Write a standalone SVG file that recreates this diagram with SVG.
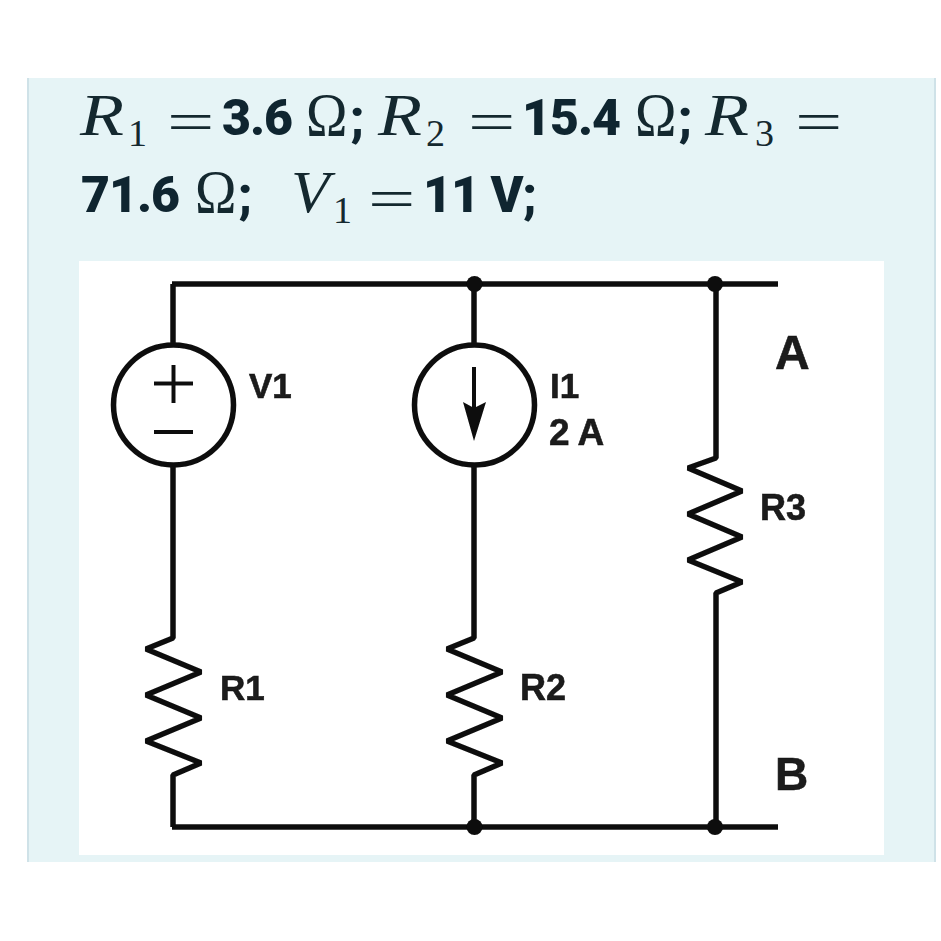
<svg xmlns="http://www.w3.org/2000/svg" width="941" height="941" viewBox="0 0 941 941">
<style>
.w{fill:none;stroke:#0c0c0c;stroke-width:5.500;stroke-linejoin:bevel}
.t{fill:none;stroke:#111;stroke-width:4}
.d{fill:#0c0c0c}
.l{font-family:"Liberation Sans",Arial,sans-serif;font-weight:700;fill:#1a1a1a;stroke:#1a1a1a;stroke-width:.6}
.b{font-family:Roboto,"Liberation Sans",sans-serif;font-weight:900;font-size:50px;letter-spacing:-1px;fill:#0f2530}
.m{font-family:"Liberation Serif",serif;font-size:56px;fill:#14282f}
.r{font-family:"Liberation Serif",serif;font-style:italic;font-size:60px;fill:#14282f}
.o{font-family:"Liberation Serif",serif;font-size:62px;fill:#14282f}
.s{font-family:"Liberation Serif",serif;font-size:38px;fill:#14282f}
</style>
<defs><filter id="soft" x="-5%" y="-5%" width="110%" height="110%"><feGaussianBlur stdDeviation="0.6"/></filter></defs>
<rect width="941" height="941" fill="#fff"/>
<rect x="27" y="78" width="909" height="784" fill="#e6f4f6"/>
<path d="M28 78V862M935 78V862" stroke="#cfe2e8" stroke-width="2" fill="none"/>
<rect x="79" y="261" width="805" height="594" fill="#fff"/>
<g id="formula">
<text class="r" transform="translate(80 135) scale(1.2 1)">R</text><text class="s" x="128" y="146">1</text>
<text class="m" transform="translate(167 141) scale(1.5 1)">=</text><text class="b" x="222" y="135">3.6</text>
<text class="o" transform="translate(306 135) scale(.9 1)">Ω</text><text class="b" x="350" y="135">;</text>
<text class="r" transform="translate(378 135) scale(1.2 1)">R</text><text class="s" x="426" y="146">2</text>
<text class="m" transform="translate(468 141) scale(1.5 1)">=</text><text class="b" x="522" y="135">15.4</text>
<text class="o" transform="translate(635 135) scale(.9 1)">Ω</text><text class="b" x="678" y="135">;</text>
<text class="r" transform="translate(705 135) scale(1.2 1)">R</text><text class="s" x="755" y="146">3</text>
<text class="m" transform="translate(795 141) scale(1.5 1)">=</text>
<text class="b" x="81" y="212">71.6</text>
<text class="o" transform="translate(195 212) scale(.9 1)">Ω</text><text class="b" x="238" y="212">;</text>
<text class="r" transform="translate(291 212) scale(1.05 1)">V</text><text class="s" x="333" y="223">1</text>
<text class="m" transform="translate(368 218) scale(1.5 1)">=</text><text class="b" x="423" y="212">11 V;</text>
</g>
<g id="connectors" filter="url(#soft)">
<path class="w" d="M172 284H778M173 284V345M173 465V638L146 649L201 672L146 695L201 718L146 741L201 763L173 775V827M172 827H778"/>
<path class="w" d="M474 284V345M474 465V638L447 649L502 672L447 695L502 718L447 741L502 763L474 775V827"/>
<path class="w" d="M716 284V458L688 468L742 491L688 514L742 537L688 560L742 582L716 593V827"/>
</g>
<g id="V1" filter="url(#soft)"><circle class="w" cx="173.500" cy="405" r="60"/>
<path class="t" d="M154 383.500H193M173.500 365V403M154 432H193"/>
<text class="l" x="249" y="398" font-size="35">V1</text></g>
<g id="I1" filter="url(#soft)"><circle class="w" cx="474.500" cy="405" r="60"/>
<path class="t" d="M474 367V410" stroke-width="3"/><path class="d" d="M463 402L474 408L486 402L474 441Z"/>
<text class="l" x="550" y="398" font-size="35">I1</text><text class="l" x="549" y="445" font-size="37" letter-spacing="-.5">2 A</text></g>
<g id="R1" filter="url(#soft)"><text class="l" x="220" y="700" font-size="35">R1</text></g>
<g id="R2" filter="url(#soft)"><text class="l" x="520" y="700" font-size="36">R2</text></g>
<g id="R3" filter="url(#soft)"><text class="l" x="760" y="520" font-size="36">R3</text></g>
<g id="A" filter="url(#soft)"><text class="l" x="775" y="369" font-size="48">A</text></g>
<g id="B" filter="url(#soft)"><text class="l" x="775" y="790" font-size="46">B</text></g>
<g id="junctions" filter="url(#soft)"><circle class="d" cx="474.500" cy="284" r="8"/><circle class="d" cx="715" cy="284" r="8"/><circle class="d" cx="474.500" cy="827" r="8"/><circle class="d" cx="715" cy="827" r="8"/></g>
</svg>
